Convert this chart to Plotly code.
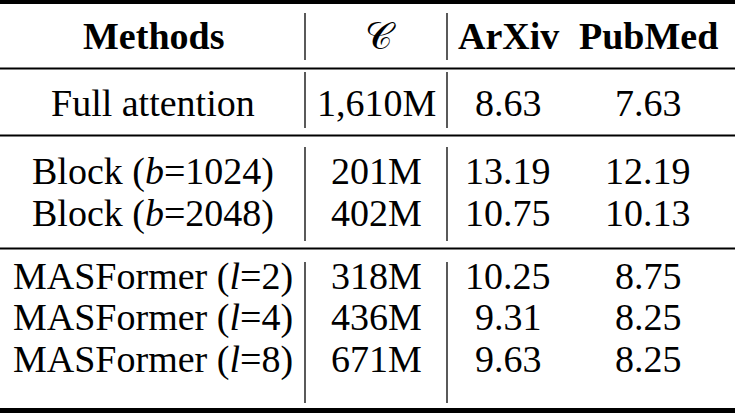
import plotly.graph_objects as go

# ---- data ----
headers = ["Methods", "𝒞", "ArXiv", "PubMed"]
methods = ["Full attention", "Block (<i>b</i>=1024)", "Block (<i>b</i>=2048)",
           "MASFormer (<i>l</i>=2)", "MASFormer (<i>l</i>=4)", "MASFormer (<i>l</i>=8)"]
compute = ["1,610M", "201M", "402M", "318M", "436M", "671M"]
arxiv = [8.63, 13.19, 10.75, 10.25, 9.31, 9.63]
pubmed = [7.63, 12.19, 10.13, 8.75, 8.25, 8.25]

# ---- layout constants ----
W, H = 735, 416
col_x = [153, 376, 508, 648]
header_y = 36
row_y = [103, 171, 213, 276, 317, 359]
FONT = "Liberation Serif"
FS = 38

fig = go.Figure()
fig.add_trace(go.Scatter(x=[0, W], y=[0, H], mode="markers",
                         marker=dict(opacity=0), hoverinfo="skip", showlegend=False))

ann = []
for j, h in enumerate(headers):
    txt = h if j == 1 else f"<b>{h}</b>"
    ann.append(dict(x=col_x[j] + (4 if j == 1 else 0), y=header_y, text=txt, showarrow=False,
                    xanchor="center", yanchor="middle",
                    font=dict(family=FONT, size=FS, color="black")))
for i in range(len(methods)):
    vals = [methods[i], compute[i], f"{arxiv[i]:.2f}", f"{pubmed[i]:.2f}"]
    for j, v in enumerate(vals):
        ann.append(dict(x=col_x[j], y=row_y[i], text=v, showarrow=False,
                        xanchor="center", yanchor="middle",
                        font=dict(family=FONT, size=FS, color="black")))

shapes = []
def hline(y, w):
    shapes.append(dict(type="line", x0=0, x1=W, y0=y, y1=y, xref="x", yref="y",
                       line=dict(color="black", width=w)))
def vline(x, y0, y1):
    shapes.append(dict(type="line", x0=x, x1=x, y0=y0, y1=y1, xref="x", yref="y",
                       line=dict(color="black", width=1.3)))

hline(2, 4)
hline(68.5, 1.8)
hline(135.5, 1.8)
hline(248.5, 1.8)
hline(410.5, 5)
for vx in (305, 447):
    vline(vx, 13, 60)
    vline(vx, 72, 128)
    vline(vx, 147, 241)
    vline(vx, 262, 403)

fig.update_layout(
    width=W, height=H, margin=dict(l=0, r=0, t=0, b=0),
    paper_bgcolor="white", plot_bgcolor="white",
    xaxis=dict(range=[0, W], visible=False, fixedrange=True),
    yaxis=dict(range=[H, 0], visible=False, fixedrange=True),
    annotations=ann, shapes=shapes, showlegend=False,
)
fig.write_html("out.html", config={"displayModeBar": False},
               post_script="document.body.style.margin='0';document.body.style.overflow='hidden';")
